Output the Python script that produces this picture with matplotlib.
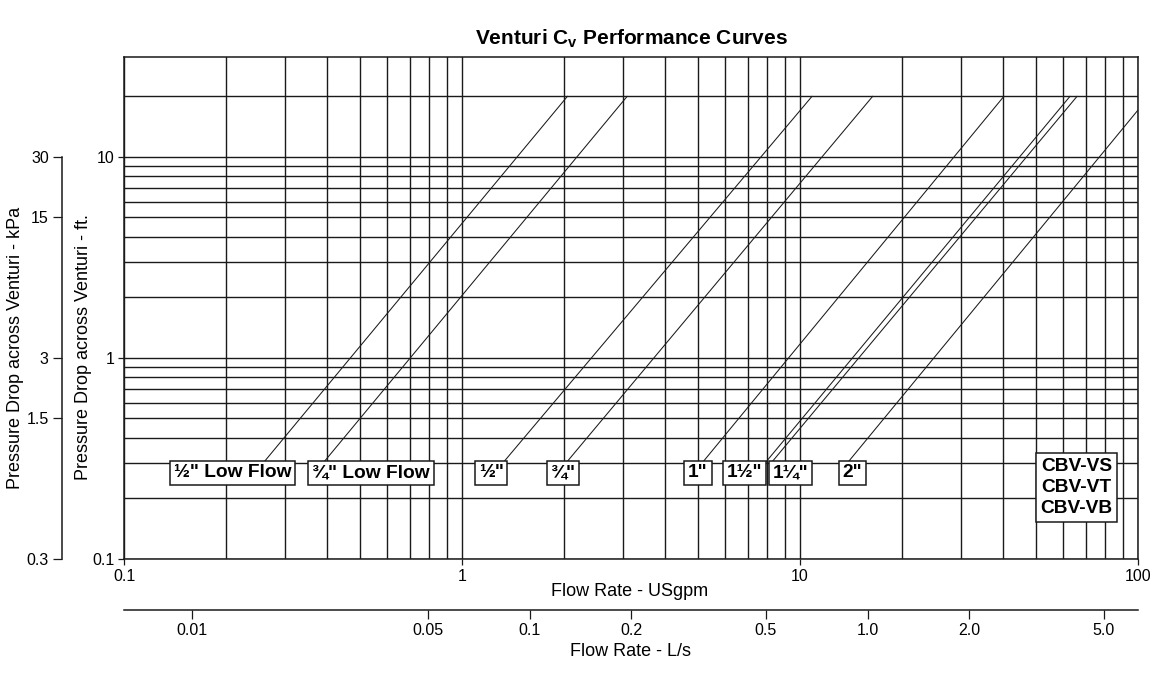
import numpy as np
import matplotlib
matplotlib.use("Agg")
import matplotlib.pyplot as plt
from matplotlib.ticker import FixedLocator, FixedFormatter, NullFormatter

plt.rcParams['font.family'] = ['Liberation Sans', 'DejaVu Sans']
plt.rcParams['mathtext.fontset'] = 'custom'
plt.rcParams['mathtext.rm'] = 'Liberation Sans'
plt.rcParams['mathtext.bf'] = 'Liberation Sans:bold'

# unit conversions for the secondary scales
FT_TO_KPA = 2.989
GPM_PER_LPS = 15.85

# venturi sizes: straight lines on log-log, start/end
sizes = ['½" Low Flow', '¾" Low Flow', '½"', '¾"', '1"', '1½"', '1¼"', '2"']
flow_start = [0.258, 0.388, 1.32, 2.03, 5.13, 7.88, 8.21, 13.8]     # USgpm
flow_end = [2.05, 3.08, 10.85, 16.4, 40.1, 62.9, 66.0, 100.0]       # USgpm
drop_start = [0.3, 0.3, 0.3, 0.3, 0.3, 0.3, 0.3, 0.3]               # ft
drop_end = [20.0, 20.0, 20.0, 20.0, 20.0, 20.0, 20.0, 17.1]         # ft

# where each size label sits (flow, drop)
label_flow = [0.210, 0.538, 1.22, 1.99, 4.99, 6.85, 9.37, 14.3]
label_drop = 0.268
model_label = 'CBV-VS\nCBV-VT\nCBV-VB'
model_flow, model_drop = 65.8, 0.227

# axis ticks
x_major = [0.1, 1, 10, 100]
x_minor = [m * d for d in (0.1, 1, 10) for m in range(2, 10)]
y_major = [0.1, 1, 10]
y_minor = [m * d for d in (0.1, 1) for m in range(2, 10)] + [20]
kpa_ticks = [0.3, 1.5, 3, 15, 30]
kpa_labels = ['0.3', '1.5', '3', '15', '30']
lps_ticks = [0.01, 0.05, 0.1, 0.2, 0.5, 1.0, 2.0, 5.0]
lps_labels = ['0.01', '0.05', '0.1', '0.2', '0.5', '1.0', '2.0', '5.0']

W, H = 1160, 675
XMIN, XMAX = 0.1, 100
YMIN, YMAX = 0.1, 31.4
INK = '#1a1a1a'

fig = plt.figure(figsize=(W / 100, H / 100), dpi=100)
pos = [124 / W, 1 - 559 / H, 1014 / W, 502 / H]
ax = fig.add_axes(pos)
ax.set_xscale('log')
ax.set_yscale('log')
ax.set_xlim(XMIN, XMAX)
ax.set_ylim(YMIN, YMAX)

ax.xaxis.set_major_locator(FixedLocator(x_major))
ax.xaxis.set_major_formatter(FixedFormatter(['0.1', '1', '10', '100']))
ax.xaxis.set_minor_locator(FixedLocator(x_minor))
ax.xaxis.set_minor_formatter(NullFormatter())
ax.yaxis.set_major_locator(FixedLocator(y_major))
ax.yaxis.set_major_formatter(FixedFormatter(['0.1', '1', '10']))
ax.yaxis.set_minor_locator(FixedLocator(y_minor))
ax.yaxis.set_minor_formatter(NullFormatter())

ax.grid(which='both', color=INK, linewidth=1.0)
ax.tick_params(which='major', direction='out', length=4, width=0.9, color=INK,
               labelsize=11.5, pad=3)
ax.tick_params(which='minor', length=0)
for s in ax.spines.values():
    s.set_color(INK)
    s.set_linewidth(1.1)

for fs, fe, ds, de in zip(flow_start, flow_end, drop_start, drop_end):
    ax.plot([fs, fe], [ds, de], color=INK, linewidth=0.75, zorder=3)

box = dict(boxstyle='square,pad=0.2', fc='white', ec=INK, lw=1.1)
for name, lf in zip(sizes, label_flow):
    ax.text(lf, label_drop, name, ha='center', va='center', fontsize=13.8,
            fontweight='bold', bbox=box, zorder=5)
ax.text(model_flow, model_drop, model_label, ha='center', va='center',
        fontsize=13.8, fontweight='bold', linespacing=1.3,
        bbox=dict(boxstyle='square,pad=0.25', fc='white', ec=INK, lw=1.1), zorder=5)

ax.set_title(r'Venturi C$_\mathbf{v}$ Performance Curves', fontsize=15,
             fontweight='bold', pad=9)

# axis titles placed where the reference has them
fig.text(630 / W, 1 - 592 / H, 'Flow Rate - USgpm', fontsize=13,
         ha='center', va='center')
fig.text(631 / W, 1 - 652 / H, 'Flow Rate - L/s', fontsize=13,
         ha='center', va='center')
fig.text(84 / W, 1 - 347 / H, 'Pressure Drop across Venturi - ft.', fontsize=13,
         rotation=90, ha='center', va='center')
fig.text(16 / W, 1 - 348 / H, 'Pressure Drop across Venturi - kPa', fontsize=13,
         rotation=90, ha='center', va='center')

# kPa scale on the far left
axk = fig.add_axes(pos, frameon=True)
axk.patch.set_visible(False)
axk.set_yscale('log')
axk.set_ylim(YMIN * FT_TO_KPA, YMAX * FT_TO_KPA)
axk.set_xticks([])
for side in ('top', 'right', 'bottom'):
    axk.spines[side].set_visible(False)
axk.spines['left'].set_position(('axes', -62 / 1014))
axk.spines['left'].set_bounds(0.3, 30)
axk.spines['left'].set_color(INK)
axk.spines['left'].set_linewidth(1.1)
axk.yaxis.set_major_locator(FixedLocator(kpa_ticks))
axk.yaxis.set_major_formatter(FixedFormatter(kpa_labels))
axk.yaxis.set_minor_locator(FixedLocator([]))
axk.tick_params(axis='y', direction='out', length=6.5, width=0.9, color=INK,
                labelsize=11.5, pad=3)

# L/s scale below
axl = fig.add_axes(pos, frameon=True)
axl.patch.set_visible(False)
axl.set_xscale('log')
axl.set_xlim(XMIN / GPM_PER_LPS, XMAX / GPM_PER_LPS)
axl.set_yticks([])
for side in ('top', 'right', 'left'):
    axl.spines[side].set_visible(False)
axl.spines['bottom'].set_position(('axes', -(610 - 559) / 502))
axl.spines['bottom'].set_color(INK)
axl.spines['bottom'].set_linewidth(1.1)
axl.xaxis.set_major_locator(FixedLocator(lps_ticks))
axl.xaxis.set_major_formatter(FixedFormatter(lps_labels))
axl.xaxis.set_minor_locator(FixedLocator([]))
axl.tick_params(axis='x', direction='out', length=6.5, width=0.9, color=INK,
                labelsize=11.5, pad=3)

fig.savefig('out.png', dpi=100)
